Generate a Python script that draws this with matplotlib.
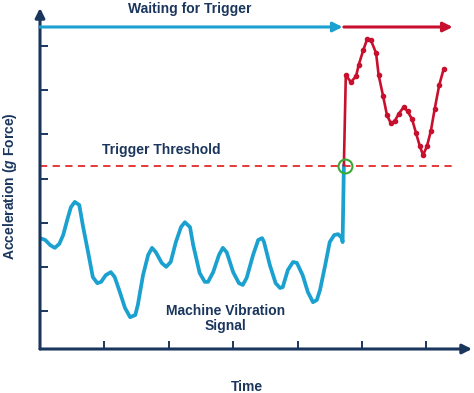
import matplotlib
matplotlib.use("Agg")
import matplotlib.pyplot as plt

plt.rcParams['font.family'] = ['Liberation Sans', 'DejaVu Sans']
plt.rcParams['mathtext.fontset'] = 'custom'
plt.rcParams['mathtext.it'] = 'Liberation Sans:bold:italic'
plt.rcParams['mathtext.rm'] = 'Liberation Sans:bold'

# machine vibration signal (time units = x tick spacing, g units = y tick spacing)
vib_t = [0.00, 0.08, 0.16, 0.23, 0.30, 0.36, 0.43, 0.48, 0.54, 0.61, 0.67, 0.75,
         0.82, 0.89, 0.95, 1.02, 1.10, 1.16, 1.24, 1.32, 1.40, 1.48, 1.52, 1.60,
         1.68, 1.74, 1.80, 1.89, 1.96, 2.03, 2.11, 2.19, 2.25, 2.33, 2.38, 2.48,
         2.56, 2.61, 2.69, 2.78, 2.84, 2.90, 3.00, 3.09, 3.15, 3.21, 3.31, 3.39,
         3.45, 3.48, 3.57, 3.66, 3.73, 3.77, 3.85, 3.93, 3.99, 4.08, 4.16, 4.24,
         4.30, 4.35, 4.43, 4.50, 4.57, 4.63, 4.69, 4.70, 4.72]
vib_g = [2.65, 2.61, 2.49, 2.43, 2.52, 2.72, 3.10, 3.35, 3.47, 3.40, 2.90, 2.31,
         1.77, 1.63, 1.66, 1.81, 1.88, 1.77, 1.43, 1.07, 0.86, 0.91, 1.14, 1.81,
         2.27, 2.43, 2.33, 2.09, 2.00, 2.11, 2.56, 2.90, 3.01, 2.90, 2.49, 1.86,
         1.66, 1.66, 1.88, 2.27, 2.43, 2.33, 1.88, 1.63, 1.59, 1.75, 2.27, 2.61,
         2.65, 2.56, 2.04, 1.63, 1.52, 1.54, 1.93, 2.11, 2.09, 1.81, 1.43, 1.20,
         1.25, 1.48, 2.04, 2.56, 2.72, 2.74, 2.65, 2.56, 4.30]

# captured samples after the trigger
cap_t = [4.72, 4.75, 4.83, 4.91, 4.95, 5.02, 5.08, 5.14, 5.22, 5.26, 5.33, 5.39,
         5.45, 5.51, 5.57, 5.65, 5.71, 5.78, 5.84, 5.90, 5.95, 6.01, 6.07, 6.13,
         6.20, 6.27]
cap_g = [4.30, 6.34, 6.18, 6.32, 6.57, 6.90, 7.15, 7.13, 6.84, 6.34, 5.86, 5.43,
         5.25, 5.30, 5.46, 5.62, 5.52, 5.34, 5.03, 4.73, 4.53, 4.73, 5.07, 5.57,
         6.11, 6.48]

threshold = 4.28
trigger_t = 4.73
x_ticks = [1, 2, 3, 4, 5, 6]
y_ticks = [1, 2, 3, 4, 5, 6, 7]

navy = '#1b365d'
blue = '#1ba1d0'
red = '#c8102e'

fig = plt.figure(figsize=(4.74, 3.93), dpi=100)
ax = fig.add_axes([40/474, 44/393, 432/474, 341/393])
ax.set_xlim(0, 6.71)
ax.set_ylim(0.14, 7.86)
for s in ax.spines.values():
    s.set_visible(False)
ax.set_xticks(x_ticks)
ax.set_yticks(y_ticks)
ax.tick_params(direction='in', length=5.5, width=1.4, color=navy,
               labelbottom=False, labelleft=False)

# axis arrows
arr = dict(arrowstyle='-|>', color=navy, lw=2.2, mutation_scale=14, shrinkA=0, shrinkB=0)
ax.annotate('', xy=(1, 0), xytext=(0, 0), xycoords='axes fraction', arrowprops=arr)
ax.annotate('', xy=(0, 1), xytext=(0, 0), xycoords='axes fraction', arrowprops=arr)

# threshold
ax.plot([0, 6.44], [threshold, threshold], ls=(0, (4, 3)), color='#e32a2a', lw=1.3)

ax.plot(vib_t, vib_g, color=blue, lw=2.7, solid_joinstyle='round', solid_capstyle='round')
ax.plot(cap_t, cap_g, color=red, lw=1.9, solid_joinstyle='round')
ax.plot(cap_t[1:], cap_g[1:], 'o', color=red, ms=3)
ax.plot(trigger_t, threshold, 'o', mfc='none', mec='#36a936', mew=1.5, ms=10)

# waiting / capture arrows
ax.annotate('', xy=(4.70, 7.43), xytext=(0, 7.43),
            arrowprops=dict(arrowstyle='-|>', color=blue, lw=2.2, mutation_scale=14,
                            shrinkA=0, shrinkB=0))
ax.annotate('', xy=(6.41, 7.43), xytext=(4.72, 7.43),
            arrowprops=dict(arrowstyle='-|>', color=red, lw=2.2, mutation_scale=14,
                            shrinkA=0, shrinkB=0))

tk = dict(color=navy, fontsize=10, fontweight='bold', ha='center', va='center')
ax.text(2.33, 7.83, 'Waiting for Trigger', **tk)
ax.text(1.89, 4.64, 'Trigger Threshold', **tk)
ax.text(2.88, 0.84, 'Machine Vibration\nSignal', linespacing=1.1, **tk)
fig.text(247/474, 1 - 387/393, 'Time', **tk)
fig.text(10/474, 1 - 186/393, 'Acceleration ($\\mathit{g}$ Force)', rotation=90, **tk)

fig.savefig('out.png', dpi=100)
